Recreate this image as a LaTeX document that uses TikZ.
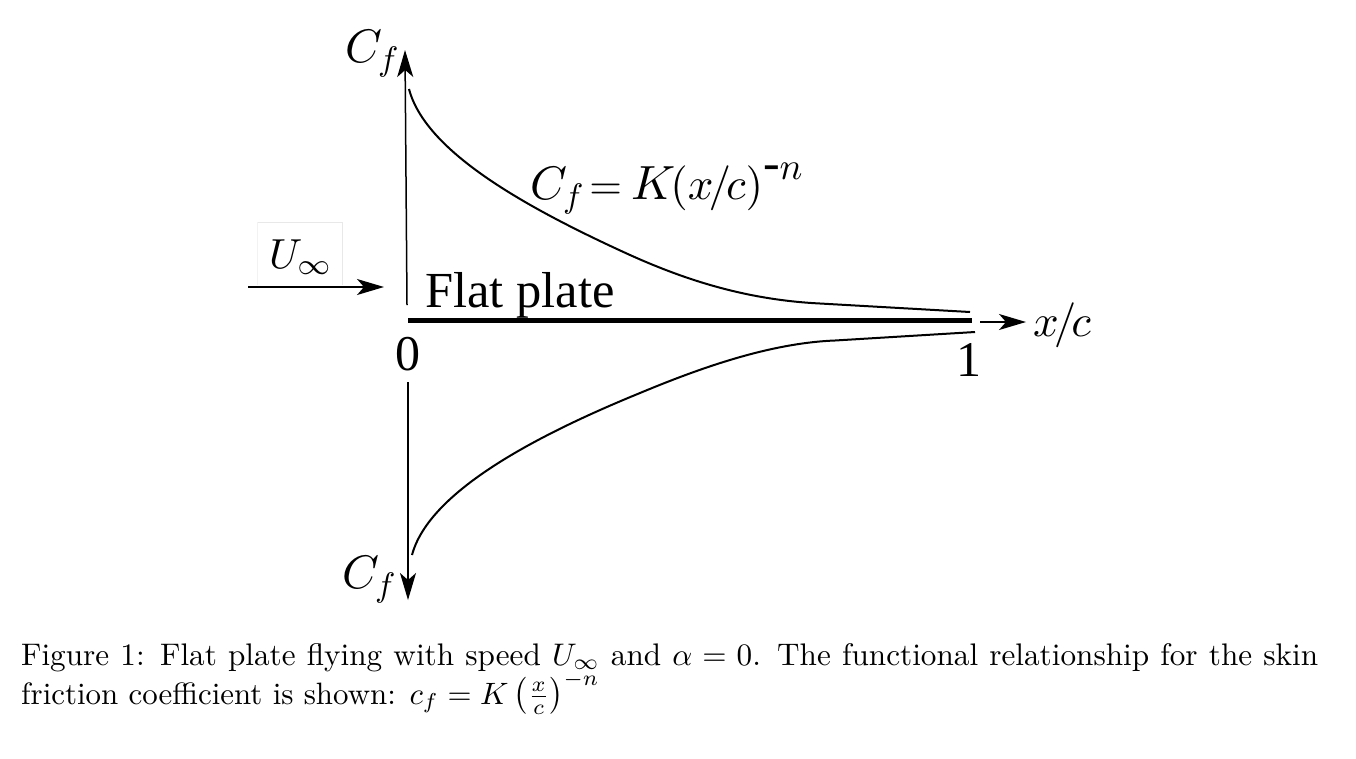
\documentclass[tikz,border=0pt]{standalone}
\usepackage{amsmath}
\usepackage{fontspec}
\newfontfamily\lib{Liberation Serif}
\usetikzlibrary{arrows.meta}
\newcommand{\cftxt}{\scalebox{4.7}{$C$}\kern-4pt\raisebox{-8pt}{\scalebox{3.4}{$f$}}}
\newcommand{\xoverc}[1]{\scalebox{#1}{$x\mkern-2mu/\mkern-2mu c$}}
\newcommand{\bigsym}[1]{{\fontsize{50}{50}\selectfont #1}}
\tikzset{
  axis/.style={line width=1.5pt,-{Stealth[length=27pt,width=16pt,inset=7pt]}},
  curve/.style={line width=2pt,line cap=butt},
  lab/.style={inner sep=0pt,font=\lib},
  captext/.style={inner sep=0pt,anchor=base west},
}
\begin{document}
\begin{tikzpicture}[x=1pt,y=-1pt]
\useasboundingbox (0,0) rectangle (1356,758);
% faint frame round U_infinity
\draw[black!9,line width=1pt] (257,222) -- (342,222) -- (342,285);
\draw[black!5,line width=1pt] (257,222) -- (257,285);
% named ends
\coordinate (yb) at (407,305);
\coordinate (yt) at (405,50);
\coordinate (db) at (408,382);
\coordinate (dt) at (408,600);
\coordinate (ul) at (248,287);
\coordinate (ur) at (384,287);
\coordinate (xl) at (980,322);
\coordinate (xr) at (1026,322);
\coordinate (pl) at (408,320);
\coordinate (pr) at (972,320);
\draw[axis] (yb) -- (yt);
\draw[axis] (db) -- (dt);
\draw[axis] (ul) -- (ur);
\draw[axis] (xl) -- (xr);
\draw[line width=5pt] (pl) -- (pr);
\draw[curve] (409,89) .. controls (425,150) and (520,205) .. (630,255) .. controls (690,282) and (750,300) .. (820,303.5) -- (970,312);
\draw[curve] (412,555) .. controls (428,495) and (525,440) .. (640,393) .. controls (700,368) and (770,343) .. (835,340.5) -- (975,332);
% labels
\node[lab,anchor=base west] (cft) at (345,62) {\cftxt};
\node[lab,anchor=base west] (cfb) at (342,588) {\cftxt};
\node[lab,anchor=base west] (eq) at (530,199) {\cftxt\kern6pt\scalebox{4.2}{$=$}\kern9pt\scalebox{4.8}{$K$}\kern-5pt\scalebox{4.5}{$($}\xoverc{4.5}\scalebox{4.5}{$)$}\raisebox{20pt}{\bigsym{-}\scalebox{3.8}{$n$}}};
\node[lab,anchor=base west] (u) at (269,268) {\scalebox{4.2}{$U_\infty$}};
\node[lab,anchor=base west] (fp) at (425,307) {\fontsize{50.5}{50}\selectfont Flat plate};
\node[lab,anchor=base] (zero) at (408,370) {\fontsize{50}{50}\selectfont 0};
\node[lab,anchor=base] (one) at (969,376) {\fontsize{50}{50}\selectfont 1};
\node[lab,anchor=base west] (xc) at (1033,336) {\xoverc{4.5}};
% caption
\node[captext] (c1) at (21,665) {\scalebox{3.12}{\makebox[415.7pt][s]{Figure 1: Flat plate flying with speed $U_\infty$ and $\alpha=0$. The functional relationship for the skin}}};
\node[captext] (c2) at (21,704) {\scalebox{3.09}{friction coefficient is shown: $c_f=K\left(\frac{x}{c}\right)^{-n}$}};
\end{tikzpicture}
\end{document}
